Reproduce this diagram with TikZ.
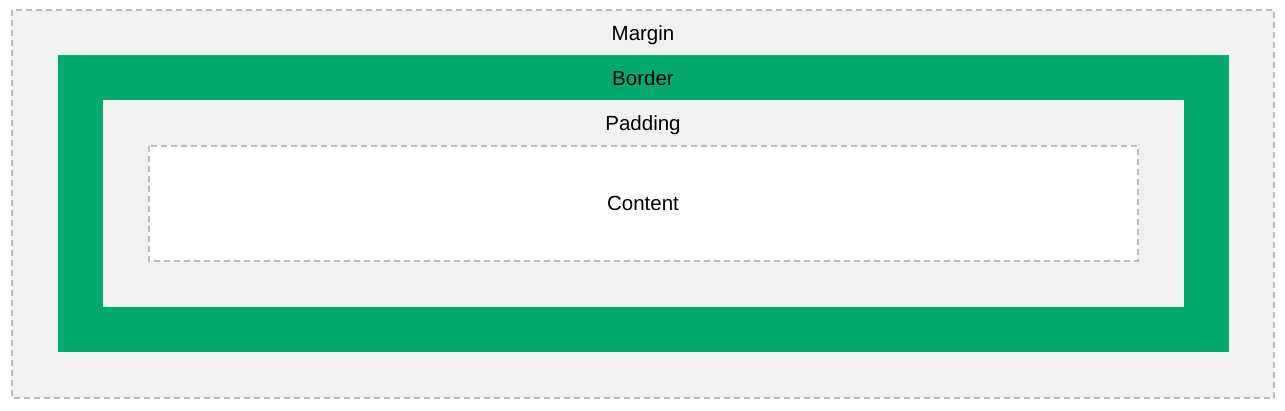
\documentclass[tikz,border=0pt]{standalone}
\usepackage{fontspec}
\setmainfont{Liberation Sans}
\definecolor{boxgrey}{HTML}{F1F1F1}
\definecolor{boxgreen}{HTML}{04AA6D}
\definecolor{dashgrey}{HTML}{BBBBBB}
\tikzset{
  dashedge/.style={draw=dashgrey, line width=2pt, dash pattern=on 6pt off 4pt},
  boxlabel/.style={anchor=base, font=\fontsize{20.5}{24}\selectfont}
}
\begin{document}
\begin{tikzpicture}[x=1pt,y=-1pt]
    \useasboundingbox (0,0) rectangle (1285,411);
    \fill[white] (0,0) rectangle (1285,411);
    \draw[dashedge, fill=boxgrey] (12,10) rectangle (1274,398); %Margin
    \fill[boxgreen] (58,55) rectangle (1229,352); %Border
    \fill[boxgrey] (103,100) rectangle (1184,307); %Padding
    \draw[dashedge, fill=white] (149,146) rectangle (1138,261); %Content
    \node[boxlabel] (margin) at (643,40.5) {Margin};
    \node[boxlabel] (border) at (643,85.5) {Border};
    \node[boxlabel] (padding) at (643,130.5) {Padding};
    \node[boxlabel] (content) at (643,211) {Content};
  \end{tikzpicture}
\end{document}
